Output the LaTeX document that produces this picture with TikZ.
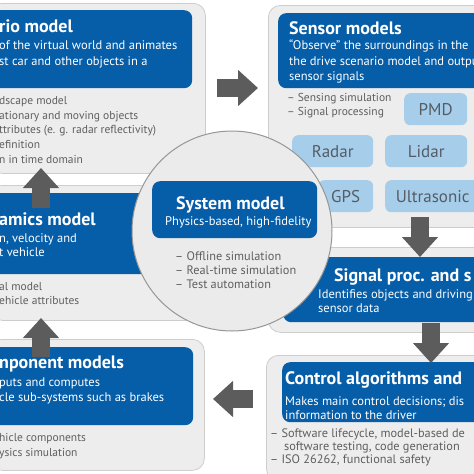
\documentclass[tikz,border=0pt]{standalone}
\usepackage{fontspec}
\setmainfont{PT Sans}
\usetikzlibrary{arrows.meta, shapes.geometric}
\definecolor{hdrblue}{RGB}{6,93,168}
\definecolor{panelbg}{RGB}{237,237,237}
\definecolor{panelline}{RGB}{205,205,205}
\definecolor{sensorbg}{RGB}{166,206,234}
\definecolor{sensortext}{RGB}{85,92,102}
\definecolor{arrowgray}{RGB}{92,92,92}
\definecolor{itemgray}{RGB}{95,95,95}
\definecolor{circlebg}{RGB}{235,235,235}
\definecolor{circleline}{RGB}{150,150,150}

\begin{document}
\begin{tikzpicture}[x=1pt, y=-1pt,
    panel/.style={fill=panelbg, draw=panelline, line width=0.8pt, rounded corners=12pt, anchor=north west, inner sep=0pt},
    header/.style={fill=hdrblue, rounded corners=8pt, anchor=north west, inner sep=0pt},
    title/.style={font=\fontsize{18}{20}\selectfont\bfseries, text=white, anchor=base west, inner sep=0pt},
    lead/.style={font=\fontsize{12.5}{14}\selectfont, text=white, anchor=base west, inner sep=0pt},
    item/.style={font=\fontsize{11.5}{14}\selectfont, text=itemgray, anchor=base west, inner sep=0pt},
    bigitem/.style={item, font=\fontsize{12.3}{14}\selectfont},
    sensor/.style={fill=sensorbg, rounded corners=6pt, font=\fontsize{17}{18}\selectfont, text=sensortext, anchor=north west, inner sep=0pt},
    bigarrow/.style={draw=arrowgray, line width=18pt, -{Triangle[width=35pt, length=20pt]}}]
    \useasboundingbox (0,0) rectangle (474,474);
    \clip (0,0) rectangle (474,474);

    % Panels
    \node[panel, minimum width=215pt, minimum height=170pt] (scen) at (-10,3) {};
    \node[header, minimum width=202pt, minimum height=78pt] (scenhdr) at (-10,10) {};
    \node[panel, minimum width=220pt, minimum height=135pt] (vdyn) at (-10,185) {};
    \node[header, minimum width=210pt, minimum height=81pt] (vdynhdr) at (-10,193) {};
    \node[panel, minimum width=214pt, minimum height=131pt] (comp) at (-10,339) {};
    \node[header, minimum width=203pt, minimum height=78pt] (comphdr) at (-10,347) {};
    \node[panel, minimum width=222pt, minimum height=222pt] (sens) at (268,5) {};
    \node[header, minimum width=212pt, minimum height=75pt] (senshdr) at (278,13) {};
    \node[panel, minimum width=222pt, minimum height=85pt] (sigp) at (268,247) {};
    \node[header, minimum width=207pt, minimum height=65pt] (sigphdr) at (283,257) {};
    \node[panel, minimum width=224pt, minimum height=125pt] (ctrl) at (266,355) {};
    \node[header, minimum width=208pt, minimum height=60pt] (ctrlhdr) at (282,362) {};

    % Drive scenario model
    \node[title] (scentitle) at (-1,32) {rio model};
    \foreach \t/\y [count=\i] in {of the virtual world and animates/49, st car and other objects in a/65}
        \node[lead] (scenlead\i) at (-1,\y) {\t};
    \foreach \t/\y [count=\i] in {dscape model/104, ationary and moving objects/119,
        {ttributes (e. g. radar reflectivity)}/133, efinition/148, n in time domain/163}
        \node[item] (scenitem\i) at (-1,\y) {\t};

    % Vehicle dynamics model
    \node[title] (vdyntitle) at (-1,225) {amics model};
    \foreach \t/\y [count=\i] in {{n, velocity and}/242, t vehicle/256}
        \node[lead] (vdynlead\i) at (-1,\y) {\t};
    \foreach \t/\y [count=\i] in {al model/290, ehicle attributes/304}
        \node[item] (vdynitem\i) at (-1,\y) {\t};

    % Component models
    \node[title] (comptitle) at (-1,368) {nponent models};
    \foreach \t/\y [count=\i] in {puts and computes/386, cle sub-systems such as brakes/401}
        \node[lead] (complead\i) at (-1,\y) {\t};
    \foreach \t/\y [count=\i] in {hicle components/441, ysics simulation/456}
        \node[item] (compitem\i) at (-1,\y) {\t};

    % Sensor models
    \node[title] (senstitle) at (289,34) {Sensor models};
    \foreach \t/\y [count=\i] in {“Observe” the surroundings in the/49,
        the drive scenario model and outpu/65, sensor signals/80}
        \node[lead] (senslead\i) at (289,\y) {\t};
    \foreach \t/\y [count=\i] in {– Sensing simulation/101, – Signal processing/115}
        \node[item] (sensitem\i) at (287,\y) {\t};
    \foreach \n/\x/\y/\w/\lbl in {pmd/404/93/63/PMD, radar/292/135/81/Radar, lidar/385/135/82/Lidar,
        gps/318/180/55/GPS, ultra/385/180/95/Ultrasonic}
        \node[sensor, minimum width=\w pt, minimum height=32pt] (\n) at (\x,\y) {\lbl};

    % Signal processing
    \node[title] (sigptitle) at (334,281) {Signal proc. and s};
    \foreach \t/\y [count=\i] in {Identifies objects and driving/298, sensor data/312}
        \node[lead] (sigplead\i) at (318,\y) {\t};

    % Control algorithms
    \node[title] (ctrltitle) at (285,384) {Control algorithms and};
    \foreach \t/\y [count=\i] in {Makes main control decisions; dis/405, information to the driver/419}
        \node[lead] (ctrllead\i) at (285,\y) {\t};
    \node[bigitem] (ctrlitem1) at (270,437) {– Software lifecycle, model-based de};
    \node[bigitem] (ctrlitem2) at (284,450) {software testing, code generation};
    \node[bigitem] (ctrlitem3) at (270,463) {– ISO 26262, functional safety};

    % System model circle
    \node[circle, fill=circlebg, draw=circleline, line width=1pt, minimum size=200pt] (sysc) at (232,231) {};
    \node[header, minimum width=165pt, minimum height=57pt] (syshdr) at (152,181) {};
    \node[title] (systitle) at (176,209) {System model};
    \node[lead] (syslead) at (165,225) {Physics-based, high-fidelity};
    \foreach \t/\y [count=\i] in {– Offline simulation/260, – Real-time simulation/274, – Test automation/288}
        \node[bigitem] (sysitem\i) at (175,\y) {\t};

    % Flow arrows
    \coordinate (a1) at (217,88);   \coordinate (b1) at (258,88);
    \coordinate (a2) at (420,217);  \coordinate (b2) at (420,257);
    \coordinate (a3) at (431,323);  \coordinate (b3) at (431,363);
    \coordinate (a4) at (253,399);  \coordinate (b4) at (213,399);
    \coordinate (a5) at (41,357);   \coordinate (b5) at (41,318);
    \coordinate (a6) at (41,208);   \coordinate (b6) at (41,168);
    \foreach \i in {1,...,6}
        \draw[bigarrow] (a\i) -- (b\i);
\end{tikzpicture}
\end{document}
